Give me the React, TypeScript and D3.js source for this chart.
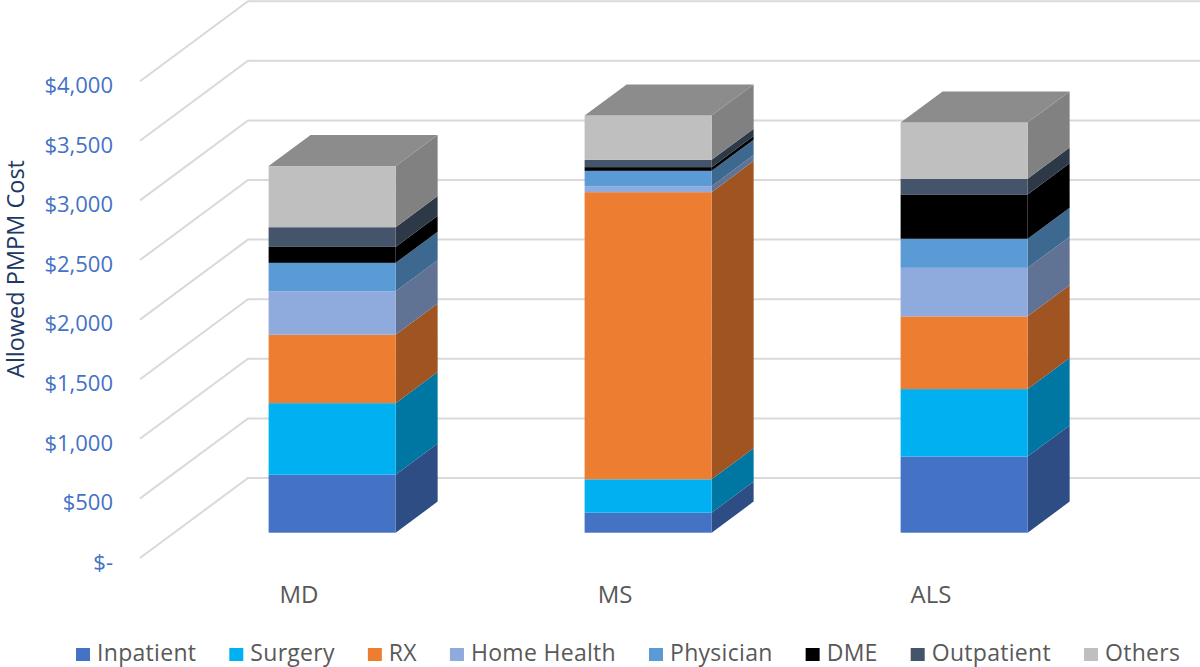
import React, { useRef, useEffect } from "react";
import * as d3 from "d3";

const categories = ["MD", "MS", "ALS"];
const seriesNames = ["Inpatient", "Surgery", "RX", "Home Health", "Physician", "DME", "Outpatient", "Others"];
const inpatient = [487, 168, 639];
const surgery = [600, 280, 566];
const rx = [574, 2409, 610];
const homeHealth = [364, 50, 407];
const physician = [239, 129, 244];
const dme = [134, 31, 372];
const outpatient = [165, 61, 132];
const others = [513, 372, 471];
const yTicks = [0, 500, 1000, 1500, 2000, 2500, 3000, 3500, 4000];
const yTickLabels = ["$-", "$500", "$1,000", "$1,500", "$2,000", "$2,500", "$3,000", "$3,500", "$4,000"];
const colors = ["#4472C4", "#00B0F0", "#ED7D31", "#8FAADC", "#5B9BD5", "#000000", "#44546A", "#BFBFBF"];

const FONT = "'Open Sans', 'DejaVu Sans', sans-serif";

const App = () => {
	const svgRef = useRef<SVGSVGElement | null>(null);

	useEffect(() => {
		if (!svgRef.current) return;
		const svg = d3.select(svgRef.current);
		svg.selectAll("*").remove();

		const width = 1200;
		const height = 667;
		svg.attr("width", width).attr("height", height);

		// oblique 3d: floor runs from front (depth 0) to back wall (depth 1)
		const depth = { dx: 108, dy: -80 };
		const barDepth = [0.316, 0.705];

		const x = d3.scaleBand().domain(categories).range([140, 1088]).padding(0);
		const y = d3.scaleLinear().domain([0, 4000]).range([558, 81.2]);
		const project = (px: number, v: number, d: number): [number, number] => [
			px + d * depth.dx,
			y(v) + d * depth.dy,
		];

		const rows = categories.map((c, i) => ({
			category: c,
			Inpatient: inpatient[i],
			Surgery: surgery[i],
			RX: rx[i],
			"Home Health": homeHealth[i],
			Physician: physician[i],
			DME: dme[i],
			Outpatient: outpatient[i],
			Others: others[i],
		}));
		const stacked = d3.stack<any>().keys(seriesNames)(rows);
		const color = d3.scaleOrdinal<string>().domain(seriesNames).range(colors);

		// gridlines: side wall diagonal, then back wall out to the edge
		const x0 = x.range()[0];
		const grid = svg.append("g");
		yTicks.forEach((t) => {
			const back = project(x0, t, 1);
			const pts = [project(x0, t, 0), back, [width, back[1]]];
			grid.append("polyline")
				.attr("points", pts.map((p) => p.join(",")).join(" "))
				.attr("fill", "none")
				.attr("stroke", "#D9D9D9")
				.attr("stroke-width", 2);
		});

		// y tick labels
		svg.append("g")
			.selectAll("text")
			.data(yTicks)
			.join("text")
			.attr("x", 113)
			.attr("y", (d) => y(d) + 4)
			.attr("dy", "0.35em")
			.attr("text-anchor", "end")
			.style("font-family", FONT)
			.style("font-size", "22px")
			.attr("fill", "#4472C4")
			.text((d, i) => yTickLabels[i]);

		// axis title
		svg.append("text")
			.attr("transform", "translate(24,269) rotate(-90)")
			.attr("text-anchor", "middle")
			.style("font-family", FONT)
			.style("font-size", "23.5px")
			.attr("fill", "#203864")
			.text("Allowed PMPM Cost");

		// bars
		const barW = x.bandwidth() * 0.402;
		const bars = svg.append("g");
		categories.forEach((c, ci) => {
			const xl = (x(c) as number) + (x.bandwidth() - barW) / 2;
			const xr = xl + barW;
			stacked.forEach((layer, li) => {
				const [v0, v1] = layer[ci];
				const col = color(layer.key);
				const side = [
					project(xr, v0, barDepth[0]),
					project(xr, v0, barDepth[1]),
					project(xr, v1, barDepth[1]),
					project(xr, v1, barDepth[0]),
				];
				bars.append("polygon")
					.attr("points", side.map((p) => p.join(",")).join(" "))
					.attr("fill", d3.color(col)!.darker(1.1).formatHex());
				const [fx, fy1] = project(xl, v1, barDepth[0]);
				const [, fy0] = project(xl, v0, barDepth[0]);
				bars.append("rect")
					.attr("x", fx)
					.attr("y", fy1)
					.attr("width", barW)
					.attr("height", fy0 - fy1)
					.attr("fill", col);
				if (li === stacked.length - 1) {
					const top = [
						project(xl, v1, barDepth[0]),
						project(xl, v1, barDepth[1]),
						project(xr, v1, barDepth[1]),
						project(xr, v1, barDepth[0]),
					];
					bars.append("polygon")
						.attr("points", top.map((p) => p.join(",")).join(" "))
						.attr("fill", d3.color(col)!.darker(0.88).formatHex());
				}
			});
		});

		// category labels
		svg.append("g")
			.selectAll("text")
			.data(categories)
			.join("text")
			.attr("x", (d) => (x(d) as number) + x.bandwidth() / 2 + 1)
			.attr("y", 603)
			.attr("text-anchor", "middle")
			.style("font-family", FONT)
			.style("font-size", "24px")
			.attr("fill", "#595959")
			.text((d) => d);

		// legend
		const legend = svg.append("g");
		let cx = 76;
		seriesNames.forEach((name) => {
			const g = legend.append("g");
			g.append("rect")
				.attr("x", cx)
				.attr("y", 648)
				.attr("width", 14)
				.attr("height", 13)
				.attr("fill", color(name));
			const t = g.append("text")
				.attr("x", cx + 21)
				.attr("y", 661)
				.style("font-family", FONT)
				.style("font-size", "23px")
				.style("letter-spacing", "0.3px")
				.attr("fill", "#595959")
				.text(name);
			const w = (t.node() as SVGTextElement).getComputedTextLength();
			cx += 21 + w + 33;
		});
	}, []);

	return (
		<div style={{ position: "absolute", left: 0, top: 0, width: 1200, height: 667, background: "#fff" }}>
			<svg ref={svgRef} style={{ display: "block" }}></svg>
		</div>
	);
};

export default App;
